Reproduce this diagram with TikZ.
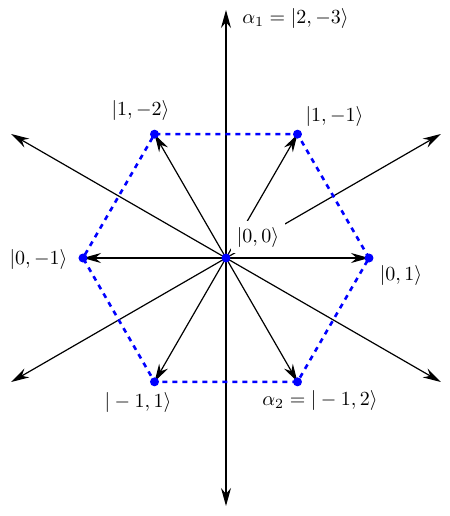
\documentclass[tikz,border=0pt]{standalone}
\usetikzlibrary{arrows.meta}
\begin{document}
\begin{tikzpicture}[x=0.5pt,y=0.5pt,
  ray/.style={line width=0.6pt,-{Stealth[length=9pt,width=5pt]}},
  hexedge/.style={blue,line width=1.3pt,dash pattern=on 2.5pt off 2.5pt},
  wdot/.style={circle,fill=blue,inner sep=0pt,minimum size=4.5pt},
  lbl/.style={inner sep=3pt}]
\useasboundingbox (-226,-258) rectangle (224,258);
\coordinate (O) at (0,0);
% long axes
\foreach \a/\n in {30/L1,90/L2,150/L3,210/L4,270/L5,330/L6}
  \coordinate (\n) at (\a:248);
\foreach \n in {L1,L2,L3,L4,L5,L6}
  \draw[ray] (O) -- (\n);
% hexagon vertices
\foreach \a/\n in {0/P0,60/P1,120/P2,180/P3,240/P4,300/P5}
  \coordinate (\n) at (\a:143);
\foreach \n in {P0,P1,P2,P3,P4,P5}
  \draw[ray] (O) -- (\n);
\draw[hexedge] (P0) -- (P1) -- (P2) -- (P3) -- (P4) -- (P5) -- cycle;
\foreach \n in {P0,P1,P2,P3,P4,P5}
  \node[wdot] (D\n) at (\n) {};
\node[wdot] (DO) at (O) {};
% labels
\node[lbl] (a1) at (69.5,240) {$\alpha_1=|2,-3\rangle$};
\node[lbl] (k12) at (-85.5,148) {$|1,-2\rangle$};
\node[lbl] (k11) at (108.5,142) {$|1,-1\rangle$};
\node[lbl,fill=white] (k00) at (32,21) {$|0,0\rangle$};
\node[lbl] (k01m) at (-187.5,-1) {$|0,-1\rangle$};
\node[lbl] (k01) at (175,-17) {$|0,1\rangle$};
\node[lbl] (km11) at (-88,-144) {$|-1,1\rangle$};
\node[lbl] (a2) at (94,-142) {$\alpha_2=|-1,2\rangle$};
\end{tikzpicture}
\end{document}
